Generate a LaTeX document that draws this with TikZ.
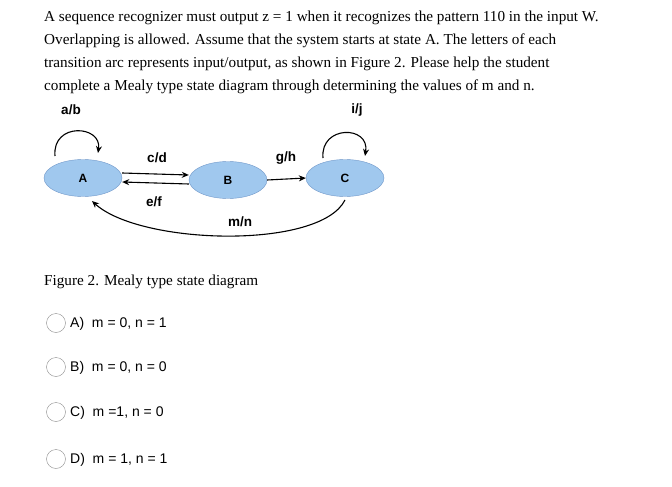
\documentclass[tikz,border=0pt]{standalone}
\usepackage{fontspec}
\setmainfont{Liberation Serif}
\newfontfamily\arial{Liberation Sans}
\usetikzlibrary{shapes.geometric,arrows.meta}
\definecolor{stfill}{RGB}{160,200,238}
\definecolor{stdraw}{RGB}{110,150,200}
\begin{document}
\begin{tikzpicture}[x=1pt,y=-1pt,
  st/.style={ellipse,draw=stdraw,fill=stfill,minimum width=78pt,minimum height=37pt,font=\arial\bfseries\fontsize{12}{13}\selectfont},
  lab/.style={font=\arial\bfseries\fontsize{13.5}{14}\selectfont},
  txt/.style={anchor=west,inner sep=0,font=\fontsize{15.2}{17}\selectfont},
  opt/.style={anchor=west,inner sep=0,font=\arial\fontsize{14}{16}\selectfont},
  rad/.style={circle,draw=black!45,minimum size=19pt,inner sep=0},
  arr/.style={-{Stealth[length=7pt,width=6pt]},line width=1.1pt}]
\useasboundingbox (0,0) rectangle (672,487);
\node[txt] (t1) at (44,18) {A sequence recognizer must output z = 1 when it recognizes the pattern 110 in the input W.};
\node[txt] (t2) at (44,41) {Overlapping is allowed. Assume that the system starts at state A. The letters of each};
\node[txt] (t3) at (44,64) {transition arc represents input/output, as shown in Figure 2. Please help the student};
\node[txt] (t4) at (44,87) {complete a Mealy type state diagram through determining the values of m and n.};
\node[st] (A) at (83,178) {A};
\node[st] (B) at (228,180) {B};
\node[st] (C) at (345,178) {C};
\coordinate (a1) at (55,156); \coordinate (a2) at (98,153);
\coordinate (c1) at (323,158); \coordinate (c2) at (365,156);
\draw[arr] (a1) .. controls (52,122) and (102,125) .. (a2);
\draw[arr] (c1) .. controls (320,125) and (370,125) .. (c2);
\draw[arr] ([yshift=5pt]A.east) -- ([yshift=5pt]B.west);
\draw[arr] ([yshift=-4pt]B.west) -- ([yshift=-4pt]A.east);
\draw[arr] (B.east) -- (C.west);
\coordinate (m1) at (345,200); \coordinate (m2) at (92,201);
\draw[arr] (m1) .. controls (320,250) and (140,245) .. (m2);
\node[lab] (lab1) at (71,110) {a/b};
\node[lab] (lab2) at (357,110) {i/j};
\node[lab] (lab3) at (157,158) {c/d};
\node[lab] (lab4) at (154,202) {e/f};
\node[lab] (lab5) at (286,158) {g/h};
\node[lab] (lab6) at (240,222) {m/n};
\node[txt] (cap) at (44,282) {Figure 2. Mealy type state diagram};
\node[rad] (r1) at (56,323) {}; \node[opt] (o1) at (70,324) {A)\; m = 0, n = 1};
\node[rad] (r2) at (56,367) {}; \node[opt] (o2) at (70,368) {B)\; m = 0, n = 0};
\node[rad] (r3) at (56,412) {}; \node[opt] (o3) at (70,413) {C)\; m =1, n = 0};
\node[rad] (r4) at (56,459) {}; \node[opt] (o4) at (70,460) {D)\; m = 1, n = 1};
\end{tikzpicture}
\end{document}
